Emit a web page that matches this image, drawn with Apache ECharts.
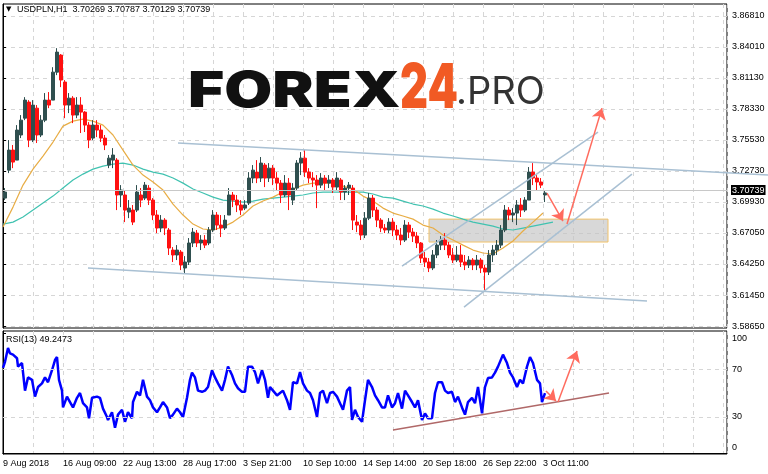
<!DOCTYPE html>
<html><head><meta charset="utf-8">
<script src="https://cdn.jsdelivr.net/npm/echarts@6/dist/echarts.min.js"></script>
<style>html,body{margin:0;padding:0;background:#fff}#c{width:768px;height:474px}</style>
</head><body><div id="c"></div>
<script>
// ---------- DATA ----------
const symbolTitle = 'USDPLN,H1';
const lastBar = ['3.70269', '3.70787', '3.70129', '3.70739'];
const lastClose = 3.70739;
const rsiTitle = 'RSI(13) 49.2473';
const priceTickLabels = ['3.58650','3.61450','3.64250','3.67050','3.69930','3.72730','3.75530','3.78330','3.81130','3.84010','3.86810'];
const priceBase = 3.5865, priceStep = 0.02816;
const timeLabels = ['9 Aug 2018','16 Aug 09:00','22 Aug 13:00','28 Aug 17:00','3 Sep 21:00','10 Sep 10:00','14 Sep 14:00','20 Sep 18:00','26 Sep 22:00','3 Oct 11:00'];
const rsiTickValues = [0, 30, 70, 100];
const rsiLevels = [30, 70];

// grouped price bars [open, close, low, high], one every 4 time units starting at 2
const candles = [
[3.7027,3.7082,3.7009,3.7118],[3.7281,3.7463,3.7254,3.7554],[3.7463,3.7354,3.7299,3.7509],[3.7372,3.7645,3.7372,3.7690],
[3.7600,3.7735,3.7572,3.7781],[3.7753,3.7917,3.7735,3.7944],[3.7899,3.7554,3.7490,3.7917],[3.7554,3.7872,3.7536,3.7917],
[3.7844,3.7600,3.7527,3.7872],[3.7600,3.7735,3.7581,3.7781],[3.7735,3.7917,3.7717,3.7981],[3.7917,3.7872,3.7844,3.7990],
[3.7917,3.8171,3.7917,3.8216],[3.8171,3.8353,3.8144,3.8389],[3.8326,3.8099,3.8035,3.8335],[3.8081,3.7872,3.7753,3.8099],
[3.7872,3.7935,3.7799,3.7981],[3.7935,3.7781,3.7708,3.7953],[3.7781,3.7872,3.7753,3.7944],[3.7872,3.7808,3.7618,3.7944],
[3.7808,3.7690,3.7627,3.7817],[3.7690,3.7554,3.7481,3.7717],[3.7572,3.7690,3.7554,3.7735],[3.7690,3.7645,3.7581,3.7735],
[3.7645,3.7572,3.7536,3.7690],[3.7572,3.7509,3.7463,3.7600],[3.7327,3.7390,3.7299,3.7418],[3.7372,3.7418,3.7299,3.7481],
[3.7372,3.7055,3.6918,3.7390],[3.7055,3.7100,3.6945,3.7145],[3.7055,3.6918,3.6809,3.7100],[3.6900,3.6936,3.6845,3.7009],
[3.6918,3.6809,3.6782,3.6964],[3.6918,3.7082,3.6900,3.7145],[3.7055,3.7009,3.6945,3.7118],[3.7027,3.7145,3.7009,3.7173],
[3.7118,3.7009,3.6964,3.7145],[3.7009,3.6873,3.6827,3.7027],[3.6873,3.6755,3.6709,3.6918],[3.6755,3.6827,3.6718,3.6873],
[3.6827,3.6755,3.6691,3.6845],[3.6737,3.6573,3.6510,3.6755],[3.6555,3.6510,3.6446,3.6582],[3.6510,3.6555,3.6464,3.6600],
[3.6537,3.6419,3.6373,3.6555],[3.6392,3.6446,3.6346,3.6500],[3.6446,3.6619,3.6419,3.6664],[3.6619,3.6718,3.6582,3.6755],
[3.6709,3.6619,3.6582,3.6737],[3.6619,3.6646,3.6555,3.6691],[3.6646,3.6600,3.6573,3.6691],[3.6619,3.6737,3.6600,3.6764],
[3.6737,3.6873,3.6718,3.6918],[3.6873,3.6782,3.6737,3.6900],[3.6782,3.6755,3.6673,3.6873],[3.6755,3.6827,3.6737,3.6873],
[3.6873,3.7055,3.6873,3.7118],[3.7055,3.7009,3.6945,3.7082],[3.7009,3.6964,3.6900,3.7055],[3.6964,3.6918,3.6873,3.7009],
[3.6936,3.6964,3.6918,3.7009],[3.6982,3.7209,3.6964,3.7263],[3.7209,3.7281,3.7163,3.7327],[3.7263,3.7209,3.7163,3.7372],
[3.7209,3.7345,3.7173,3.7400],[3.7327,3.7209,3.7127,3.7345],[3.7209,3.7299,3.7173,3.7345],[3.7299,3.7209,3.7145,3.7327],
[3.7209,3.7163,3.7100,3.7263],[3.7163,3.7055,3.6982,3.7191],[3.7055,3.7163,3.7036,3.7236],[3.7163,3.7055,3.6918,3.7209],
[3.7009,3.7118,3.6964,3.7163],[3.7118,3.7345,3.7100,3.7372],[3.7345,3.7390,3.7236,3.7445],[3.7390,3.7263,3.7218,3.7463],
[3.7263,3.7209,3.7163,3.7299],[3.7209,3.7191,3.7127,3.7263],[3.7191,3.7145,3.6936,3.7236],[3.7145,3.7209,3.7118,3.7254],
[3.7209,3.7163,3.7100,3.7236],[3.7163,3.7191,3.7118,3.7236],[3.7191,3.7127,3.7073,3.7209],[3.7127,3.7209,3.7100,3.7263],
[3.7191,3.7082,3.7009,3.7209],[3.7082,3.7118,3.7009,3.7145],[3.7118,3.7145,3.7055,3.7173],[3.7118,3.6827,3.6737,3.7145],
[3.6809,3.6782,3.6718,3.6873],[3.6782,3.6691,3.6646,3.6827],[3.6691,3.6845,3.6664,3.6900],[3.6845,3.7027,3.6827,3.7073],
[3.7027,3.6918,3.6855,3.7055],[3.6918,3.6827,3.6764,3.6945],[3.6827,3.6755,3.6718,3.6845],[3.6755,3.6737,3.6709,3.6791],
[3.6737,3.6809,3.6709,3.6845],[3.6809,3.6737,3.6682,3.6845],[3.6737,3.6691,3.6646,3.6782],[3.6691,3.6646,3.6600,3.6755],
[3.6646,3.6782,3.6628,3.6827],[3.6782,3.6718,3.6664,3.6809],[3.6718,3.6682,3.6628,3.6755],[3.6682,3.6619,3.6573,3.6718],
[3.6619,3.6482,3.6437,3.6628],[3.6482,3.6446,3.6401,3.6537],[3.6446,3.6392,3.6355,3.6482],[3.6392,3.6510,3.6373,3.6555],
[3.6510,3.6600,3.6482,3.6646],[3.6600,3.6646,3.6555,3.6682],[3.6646,3.6600,3.6555,3.6709],[3.6600,3.6510,3.6482,3.6628],
[3.6510,3.6464,3.6437,3.6573],[3.6464,3.6510,3.6446,3.6591],[3.6510,3.6446,3.6401,3.6600],[3.6446,3.6419,3.6373,3.6510],
[3.6419,3.6464,3.6392,3.6500],[3.6464,3.6419,3.6373,3.6482],[3.6419,3.6464,3.6373,3.6510],[3.6464,3.6392,3.6346,3.6482],
[3.6392,3.6355,3.6192,3.6419],[3.6355,3.6510,3.6328,3.6555],[3.6510,3.6555,3.6446,3.6600],[3.6555,3.6600,3.6510,3.6646],
[3.6600,3.6737,3.6573,3.6782],[3.6737,3.6918,3.6718,3.6964],[3.6918,3.6873,3.6827,3.6945],[3.6873,3.6891,3.6809,3.6936],
[3.6891,3.6964,3.6782,3.7009],[3.6964,3.6918,3.6855,3.7027],[3.6918,3.7009,3.6900,3.7036],[3.7009,3.7263,3.7009,3.7309],
[3.7263,3.7209,3.7145,3.7345],[3.7209,3.7173,3.7100,3.7236],[3.7173,3.7145,3.7118,3.7209],[3.7055,3.7074,3.6991,3.7100]
];
// moving averages, one value every 10 time units starting at 0
const maFast = [3.6764,3.6945,3.7145,3.7290,3.7409,3.7536,3.7681,3.7726,3.7744,3.7726,3.7690,3.7600,3.7463,3.7327,3.7236,3.7173,3.7100,3.6973,3.6873,3.6791,3.6746,3.6737,3.6764,3.6809,3.6873,3.6955,3.7000,3.7036,3.7082,3.7109,3.7145,3.7163,3.7163,3.7163,3.7136,3.7109,3.7045,3.7000,3.6936,3.6891,3.6864,3.6836,3.6782,3.6755,3.6691,3.6646,3.6600,3.6555,3.6528,3.6519,3.6573,3.6637,3.6728,3.6809,3.6891];
const maSlow = [3.6791,3.6809,3.6855,3.6918,3.6982,3.7045,3.7118,3.7191,3.7245,3.7290,3.7318,3.7336,3.7345,3.7327,3.7290,3.7263,3.7245,3.7209,3.7163,3.7109,3.7073,3.7036,3.7009,3.7000,3.6991,3.7000,3.7018,3.7027,3.7036,3.7045,3.7055,3.7073,3.7082,3.7082,3.7082,3.7082,3.7082,3.7064,3.7036,3.7027,3.7000,3.6973,3.6955,3.6927,3.6891,3.6864,3.6836,3.6809,3.6791,3.6773,3.6746,3.6737,3.6755,3.6773,3.6791,3.6809];
// RSI(13): [time unit, value]
const rsi = [[0,71],[2,76],[5,87.5],[7,83],[10,82],[14,79],[15,72],[19,75],[22,52],[25,63],[29,61],[32,47],[35,55],[39,58],[42,63],[45,59],[49,69],[52,77.5],[54,80],[56,61],[59,52],[60,38],[64,47],[67,42.5],[70,38],[74,46],[77,50],[80,41.5],[84,38],[86,29],[89,46],[94,47],[97,46],[100,37],[104,30],[105,27.5],[109,34],[112,21],[115,32],[119,36],[122,26],[125,34],[129,29],[130,42.5],[134,51],[137,48],[140,61],[144,47],[147,44],[150,38],[154,34],[157,38],[160,42.5],[164,38],[167,29],[170,32],[174,37],[177,34],[180,30],[184,46],[187,61],[189,67],[192,63],[195,52],[199,51],[202,52],[205,55],[209,69],[212,63],[215,58],[219,52],[222,61],[225,72],[229,65],[232,58],[235,54],[239,51],[242,51],[245,72],[249,72],[252,67.5],[255,58],[259,69],[262,61],[265,46],[267,55],[270,52],[274,48],[277,50],[280,52],[284,44],[287,36],[290,59],[294,58],[297,67.5],[300,58],[304,52],[307,50],[310,44],[314,30],[317,50],[320,52],[324,41.5],[327,50],[330,51],[334,47],[337,41.5],[340,36],[344,52],[347,55],[349,27.5],[352,36],[355,30],[359,26],[362,44],[365,61],[369,55],[372,48],[375,44],[379,38],[382,38],[385,48],[389,38],[392,41.5],[395,50],[399,37],[402,52],[405,48],[409,42.5],[412,38],[415,44],[419,27.5],[422,33],[425,29],[429,29],[432,50],[435,59],[439,59],[442,52],[445,50],[449,51],[452,42.5],[455,47],[459,38],[462,32],[465,42.5],[469,46],[472,41.5],[475,55],[479,33],[482,55],[485,62.5],[489,63],[492,67],[495,72],[500,82],[504,75],[507,67],[510,63],[514,55],[517,61],[520,58],[524,72],[527,80],[530,75],[534,61],[537,58],[539,42.5],[542,50]];

// drawings in data space: [time unit, price]
const channelTop = [[175, 3.7527], [765, 3.7236]];
const trendLines = [
  [[85, 3.6392], [644, 3.6092]],
  [[461, 3.6037], [629, 3.7245]],
  [[399, 3.6410], [595, 3.7626]]
];
const zoneBox = [[426, 3.6836], [605, 3.6628]];
const priceArrows = [
  [[544, 3.7073], [560, 3.6818]],
  [[564, 3.6791], [599, 3.7844]]
];
const rsiTrend = [[390, 19.2], [606, 50]];
const rsiArrows = [
  [[543, 51.7], [553, 43.3]],
  [[555, 42.5], [574, 85]]
];

// ---------- BUILD ----------
const N = 363;               // category slots (2 time units each)
const cats = Array.from({length: N}, (_, i) => i);
const candleData = cats.map(() => ['-', '-', '-', '-']);
candles.forEach((c, k) => { candleData[1 + 2 * k] = c; });
const priceTickValues = priceTickLabels.map((s, k) => priceBase + k * priceStep);

const FONT = '"Liberation Sans", Arial, sans-serif';
const grid = '#d6d6d6';
const chart = echarts.init(document.getElementById('c'), null, {renderer: 'canvas'});
chart.setOption({
  animation: false,
  backgroundColor: '#fff',
  grid: [
    {left: 3, top: 4, width: 724, height: 324, show: true, borderColor: '#000', borderWidth: 1},
    {left: 3, top: 331, width: 724, height: 123, show: true, borderColor: '#000', borderWidth: 1}
  ],
  xAxis: [
    {type: 'category', gridIndex: 0, data: cats, boundaryGap: false, show: false},
    {type: 'value', gridIndex: 1, min: 0, max: 724, interval: 30,
      axisLine: {show: true, lineStyle: {color: '#000'}}, axisTick: {show: false},
      splitLine: {show: true, lineStyle: {color: grid, type: [4, 4]}},
      axisLabel: {fontSize: 9, fontFamily: FONT, color: '#000', align: 'left', margin: 5,
        formatter: v => (v % 60 === 0 && timeLabels[v / 60]) ? timeLabels[v / 60] : ''}},
    {type: 'value', gridIndex: 0, min: 0, max: 724, interval: 30,
      axisLine: {show: false}, axisTick: {show: false}, axisLabel: {show: false},
      splitLine: {show: true, lineStyle: {color: grid, type: [4, 4]}}}
  ],
  yAxis: [
    {type: 'value', gridIndex: 0, position: 'right', min: 3.5847, max: 3.8790, scale: true,
      axisLine: {show: true, lineStyle: {color: '#000'}},
      axisTick: {show: true, length: 3, customValues: priceTickValues, lineStyle: {color: '#000'}},
      axisLabel: {customValues: priceTickValues, fontSize: 9, fontFamily: FONT, color: '#000', margin: 5,
        formatter: v => priceTickLabels[Math.round((v - priceBase) / priceStep)] || ''},
      splitLine: {show: true, lineStyle: {color: grid, type: [4, 4]}}},
    {type: 'value', gridIndex: 1, position: 'right', min: -0.83, max: 101.7,
      axisLine: {show: true, lineStyle: {color: '#000'}},
      axisTick: {show: true, length: 3, customValues: rsiTickValues, lineStyle: {color: '#000'}},
      axisLabel: {customValues: rsiTickValues, fontSize: 9, fontFamily: FONT, color: '#000', margin: 5,
        formatter: v => v === 100 ? '{t|100}' : (v === 0 ? '{b|0}' : String(v)),
        rich: {t: {fontSize: 9, fontFamily: FONT, padding: [10, 0, 0, 0]}, b: {fontSize: 9, fontFamily: FONT, padding: [0, 0, 10, 0]}}},
      splitLine: {show: false}}
  ],
  series: [
    {type: 'line', name: 'MA slow', xAxisIndex: 2, yAxisIndex: 0, z: 2,
      data: maSlow.map((v, i) => [i * 10, v]), symbol: 'none', silent: true,
      lineStyle: {color: '#40c2b0', width: 1.2}},
    {type: 'line', name: 'MA fast', xAxisIndex: 2, yAxisIndex: 0, z: 2,
      data: maFast.map((v, i) => [i * 10, v]), symbol: 'none', silent: true,
      lineStyle: {color: '#e8ad45', width: 1.2}},
    {type: 'line', name: 'zone', xAxisIndex: 2, yAxisIndex: 0, z: 3, data: [], silent: true,
      markArea: {silent: true, itemStyle: {color: 'rgba(195,195,195,0.65)', borderColor: '#f2c36b', borderWidth: 1},
        data: [[{coord: zoneBox[0]}, {coord: zoneBox[1]}]]}},
    {type: 'candlestick', name: symbolTitle, xAxisIndex: 0, yAxisIndex: 0, z: 4, barWidth: 3, silent: true,
      data: candleData,
      itemStyle: {color: '#2f4f4f', color0: '#ff1010', borderColor: '#2f4f4f', borderColor0: '#ff1010', borderWidth: 1},
      markLine: {silent: true, symbol: 'none', animation: false,
        lineStyle: {color: '#c8c8c8', type: 'solid', width: 1},
        label: {show: true, position: 'end', distance: 4, formatter: lastBar[3], backgroundColor: '#000', color: '#fff',
          fontSize: 9, fontFamily: FONT, padding: [1, 1, 0, 1]},
        data: [{yAxis: lastClose}]}},
    {type: 'lines', coordinateSystem: 'cartesian2d', xAxisIndex: 2, yAxisIndex: 0, z: 5, silent: true, clip: false,
      data: [{coords: channelTop}], symbol: 'none',
      lineStyle: {color: '#a9c0d3', width: 1.5, opacity: 1}},
    {type: 'lines', coordinateSystem: 'cartesian2d', xAxisIndex: 2, yAxisIndex: 0, z: 5, silent: true,
      data: trendLines.map(l => ({coords: l})), symbol: 'none',
      lineStyle: {color: '#a9c0d3', width: 1.5, opacity: 1}},
    {type: 'lines', coordinateSystem: 'cartesian2d', xAxisIndex: 2, yAxisIndex: 0, z: 6, silent: true,
      data: priceArrows.map(l => ({coords: l})), symbol: ['none', 'arrow'], symbolSize: 11,
      lineStyle: {color: '#ff6b5e', width: 1.5, opacity: 1}},
    {type: 'line', name: 'RSI', xAxisIndex: 1, yAxisIndex: 1, data: rsi, symbol: 'none', silent: true, z: 4,
      lineStyle: {color: '#0000ff', width: 2.5},
      markLine: {silent: true, symbol: 'none', lineStyle: {color: grid, type: [4, 4], width: 1}, label: {show: false},
        data: rsiLevels.map(v => ({yAxis: v}))}},
    {type: 'lines', coordinateSystem: 'cartesian2d', xAxisIndex: 1, yAxisIndex: 1, z: 5, silent: true,
      data: [{coords: rsiTrend}], symbol: 'none', lineStyle: {color: '#b06868', width: 1.5, opacity: 1}},
    {type: 'lines', coordinateSystem: 'cartesian2d', xAxisIndex: 1, yAxisIndex: 1, z: 6, silent: true,
      data: rsiArrows.map(l => ({coords: l})), symbol: ['none', 'arrow'], symbolSize: 11,
      lineStyle: {color: '#ff6b5e', width: 1.5, opacity: 1}}
  ],
  graphic: [
    {type: 'text', x: 6, y: 6, z: 10, style: {text: '▼', font: '7px "DejaVu Sans"', fill: '#000'}},
    {type: 'text', x: 17, y: 5, z: 10, style: {text: symbolTitle + '  ' + lastBar.join(' '), font: '9px ' + FONT, fill: '#000'}},
    {type: 'text', x: 6, y: 335, z: 10, style: {text: rsiTitle, font: '9px ' + FONT, fill: '#000'}},
    {type: 'text', x: 188, y: 67, scaleX: 1.24, z: 1, style: {text: 'FOREX', font: '900 50px Inter', fill: '#111', textVerticalAlign: 'top'}},
    {type: 'text', x: 400, y: 58, scaleX: 0.7, z: 1, style: {text: '24', font: '900 62px Inter', fill: '#f15a24', textVerticalAlign: 'top'}},
    {type: 'text', x: 456, y: 74, z: 1, style: {text: '.PRO', font: '400 38px Inter', fill: '#333', textVerticalAlign: 'top'}}
  ]
});
</script>
</body></html>
